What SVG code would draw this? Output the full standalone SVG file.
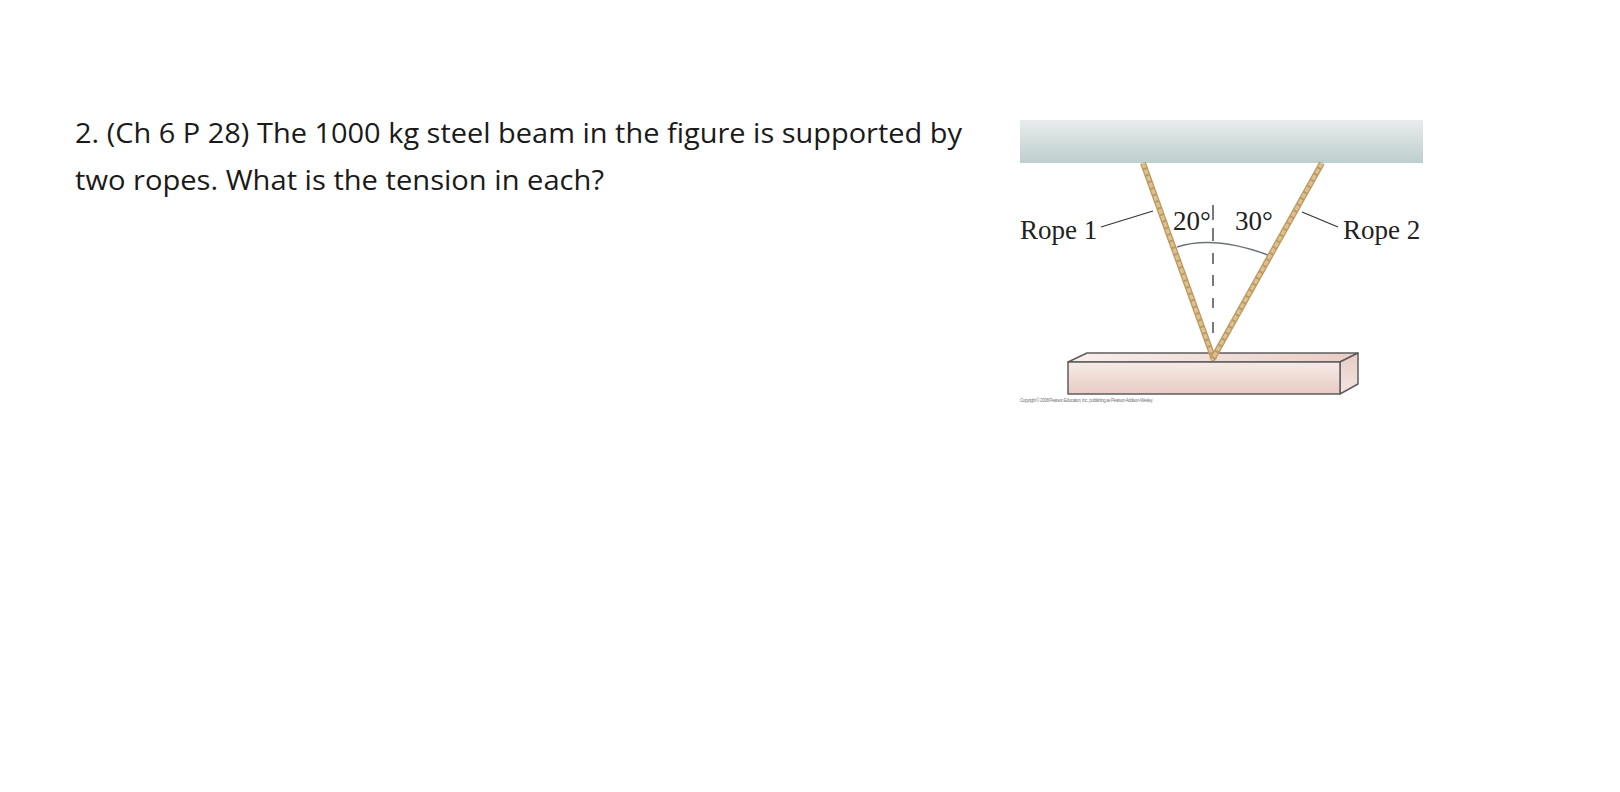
<svg xmlns="http://www.w3.org/2000/svg" width="1620" height="792" viewBox="0 0 1620 792">
<style>
.q{font-family:"Open Sans","Noto Sans",sans-serif;font-size:27px;fill:#1a1a1a}
.l{font-family:"Liberation Serif",serif;font-size:27px;fill:#222}
.rope{stroke:#bd9a62;stroke-width:6;fill:none}
.core{stroke:#dcc08e;stroke-width:3.4;stroke-dasharray:5 2;fill:none}
.lead{stroke:#333;stroke-width:1.2;fill:none}
.edge{stroke:#5d5d5d;stroke-width:1.5;stroke-linejoin:round}
</style>
<defs>
<linearGradient id="ceil" x1="0" y1="0" x2="0" y2="1"><stop offset="0" stop-color="#e8edec"/><stop offset="1" stop-color="#bdcecd"/></linearGradient>
<linearGradient id="front" x1="0" y1="0" x2="0" y2="1"><stop offset="0" stop-color="#f6ebe7"/><stop offset="1" stop-color="#e9cbc4"/></linearGradient>
<linearGradient id="top" x1="0" y1="0" x2="1" y2="0"><stop offset="0" stop-color="#f8efec"/><stop offset="1" stop-color="#e9cdc6"/></linearGradient>
<linearGradient id="side" x1="0" y1="0" x2="0" y2="1"><stop offset="0" stop-color="#e8cdc6"/><stop offset="1" stop-color="#f3e5e0"/></linearGradient>
</defs>
<rect width="1620" height="792" fill="#fff"/>
<g id="question">
<text class="q" x="75" y="143" textLength="887" lengthAdjust="spacingAndGlyphs">2. (Ch 6 P 28) The 1000 kg steel beam in the figure is supported by</text>
<text class="q" x="75" y="190" textLength="529" lengthAdjust="spacingAndGlyphs">two ropes. What is the tension in each?</text>
</g>
<g id="ceiling"><rect x="1020" y="120" width="403" height="43" fill="url(#ceil)"/></g>
<g id="beam">
<polygon class="edge" points="1068,362 1087,353 1358,353 1340,362" fill="url(#top)"/>
<polygon class="edge" points="1340,362 1358,353 1358,384 1340,394" fill="url(#side)"/>
<rect class="edge" x="1068" y="362" width="272" height="32" fill="url(#front)"/>
</g>
<g id="connectors">
<path d="M1213 205V220M1213 228V241M1213 253V264M1213 275V286M1213 298V308M1213 322V333" stroke="#333" stroke-width="1.3" fill="none"/>
<path class="lead" d="M1101 227L1153 211M1302 212L1338 227"/>
<path d="M1177 247Q1214 235 1268 255" stroke="#6d7478" stroke-width="1.7" fill="none"/>
</g>
<g id="rope-1">
<line class="rope" x1="1143" y1="163" x2="1214" y2="360"/>
<line class="core" x1="1143" y1="163" x2="1214" y2="360"/>
</g>
<g id="rope-2">
<line class="rope" x1="1322" y1="163" x2="1212" y2="360"/>
<line class="core" x1="1322" y1="163" x2="1212" y2="360"/>
</g>
<g id="labels">
<text class="l" x="1020" y="239">Rope 1</text>
<text class="l" x="1343" y="239">Rope 2</text>
<text class="l" x="1173" y="230">20°</text>
<text class="l" x="1235" y="230">30°</text>
<text x="1020" y="402" font-family="Liberation Sans,sans-serif" font-size="4.5" fill="#777" textLength="133">Copyright © 2008 Pearson Education, Inc., publishing as Pearson Addison-Wesley.</text>
</g>
</svg>
